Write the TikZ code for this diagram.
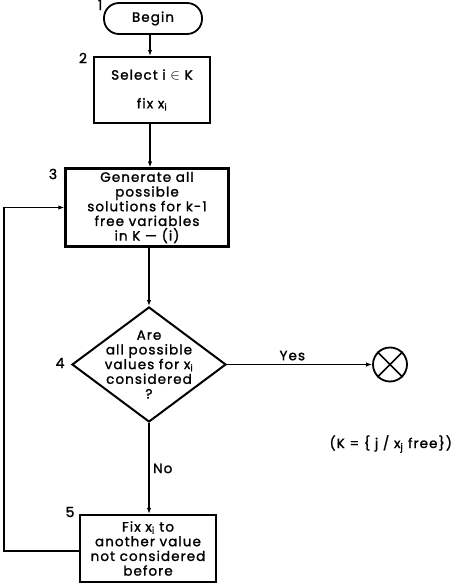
\documentclass[tikz,border=0pt]{standalone}
\usepackage{fontspec}
\setmainfont{Poppins}[LetterSpace=8, FakeBold=1.4]
\usetikzlibrary{shapes.geometric,arrows.meta}
\tikzset{
	box/.style={draw, line width=2.3pt, align=center, inner sep=1pt,
		font=\fontsize{13.5}{14.7}\selectfont},
	flow/.style={line width=1.6pt, -{Latex[length=6pt,width=4.5pt]}},
	stepno/.style={font=\fontsize{14}{15}\selectfont},
	tag/.style={font=\fontsize{13.5}{15}\selectfont}
}

\begin{document}
\begin{tikzpicture}[x=1pt, y=-1pt]
		%%%%% START %%%%%
		\useasboundingbox (0, 0) rectangle (474, 583);
		
		\node[box, line width=1.8pt, rounded corners=15pt, minimum width=98pt, minimum height=31pt] (begin) at (153, 18.5) {Begin};
		\node[box, minimum width=116pt, minimum height=66pt] (select) at (152, 90) {Select i $\in$ K\\[14pt]fix x\textsubscript{i}};
		\node[box, minimum width=163pt, minimum height=78pt] (generate) at (147, 207.5) {Generate all\\possible\\solutions for k-1\\free variables\\in K --- (i)};
		\node[draw, diamond, line width=2pt, minimum width=154pt, minimum height=115pt, inner sep=0pt] (ask) at (149, 364.5) {};
		\node[align=center, font=\fontsize{13.5}{14.7}\selectfont] (asktext) at (ask) {Are\\all possible\\values for x\textsubscript{i}\\considered\\?};
		\node[draw, circle, line width=1.8pt, minimum size=34pt, inner sep=0pt] (stop) at (390, 364.5) {};
		\draw[line width=1.6pt] (stop.45) -- (stop.225);
		\draw[line width=1.6pt] (stop.135) -- (stop.-45);
		\node[box, minimum width=136pt, minimum height=67pt] (fix) at (148, 548.5) {Fix x\textsubscript{i} to\\another value\\not considered\\before};
		
		% step numbers
		\node[stepno] (n1) at (100, 5) {1};
		\node[stepno] (n2) at (83, 58) {2};
		\node[stepno] (n3) at (53, 174) {3};
		\node[stepno] (n4) at (60, 363) {4};
		\node[stepno] (n5) at (70, 512) {5};
		
		\node[tag, anchor=west] (note) at (326, 444) {(K = \{ j / x\textsubscript{j} free\})};
		
		% connectors
		\draw[flow] (begin.south -| 150, 0) -- (select.north -| 150, 0);
		\draw[flow] (select.south -| 150, 0) -- (generate.north -| 150, 0);
		\draw[flow] (generate.south -| ask.north) -- (ask.north);
		\draw[flow] (ask.east) -- node[tag, above, pos=0.45] {Yes} (stop);
		\draw[flow] (ask.south) -- node[tag, right] {No} (ask.south |- fix.north);
		\coordinate (loop) at (4, 551);
		\draw[flow] (fix.west |- loop) -- (loop) |- (generate.west);
		
		%%%%% END %%%%%
	\end{tikzpicture}
\end{document}
